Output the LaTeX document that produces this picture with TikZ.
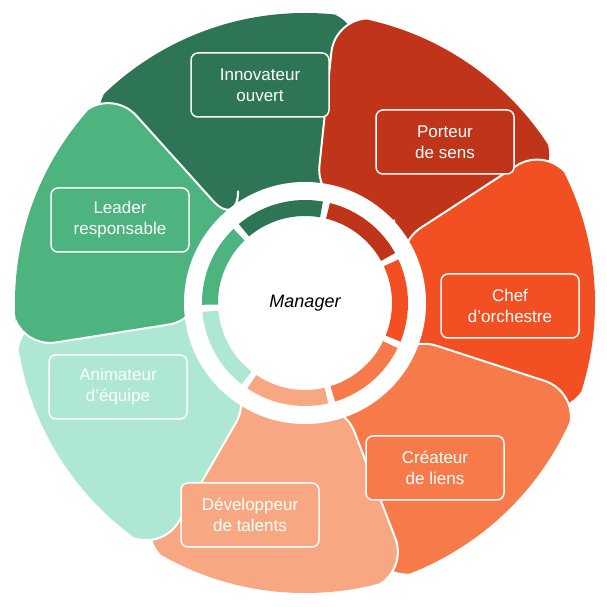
\documentclass[tikz,border=0pt]{standalone}
\usepackage{fontspec}
\setmainfont{Liberation Sans}
\usetikzlibrary{calc}
\definecolor{cA}{HTML}{2E7556}
\definecolor{cB}{HTML}{C0341A}
\definecolor{cC}{HTML}{F25022}
\definecolor{cD}{HTML}{F67A4A}
\definecolor{cE}{HTML}{F7A882}
\definecolor{cF}{HTML}{AEE8D4}
\definecolor{cG}{HTML}{4DB37F}
\tikzset{
  lbl/.style={draw=white,line width=1.5pt,rounded corners=7pt,minimum width=138pt,minimum height=64pt,
    align=center,text=white,font=\fontsize{17}{21}\selectfont},
}
\newcommand{\petal}[3]{%
  \fill[#3,draw=white,line width=2pt,rounded corners=38pt]
   ($(C)+(#1:100)$) -- ($(C)+(#1:290)$) arc[start angle=#1,end angle=#2,radius=290]
   -- ($(C)+(#2:100)$) arc[start angle=#2,end angle=#1,radius=100] -- cycle;}
\newcommand{\inarc}[3]{%
  \fill[#3] ($(C)+(#1:87)$) arc[start angle=#1,end angle=#2,radius=87]
   -- ($(C)+(#2:103)$) arc[start angle=#2,end angle=#1,radius=103] -- cycle;}
\begin{document}
\begin{tikzpicture}[x=1pt,y=1pt]
\useasboundingbox (0,0) rectangle (607,607);
\coordinate (C) at (305,304);
\begin{scope}
\clip (C) circle (290);
\petal{78}{140}{cA}
\petal{27}{84}{cB}
\petal{-24}{33}{cC}
\petal{-75}{-18}{cD}
\petal{-126}{-69}{cE}
\petal{-177}{-120}{cF}
\petal{-228}{-171}{cG}
\end{scope}
\fill[white] (C) circle (121);
\inarc{80}{130}{cA}
\inarc{29}{76}{cB}
\inarc{-22}{25}{cC}
\inarc{-73}{-26}{cD}
\inarc{-124}{-77}{cE}
\inarc{-175}{-128}{cF}
\inarc{-226}{-179}{cG}
\node[circle,fill=white,minimum size=170pt,font=\fontsize{18}{22}\selectfont\itshape] (m) at (C) {Manager};
\node[lbl,fill=cA] (a) at (260,522) {Innovateur\\ouvert};
\node[lbl,fill=cB] (b) at (445,465) {Porteur\\de sens};
\node[lbl,fill=cC] (c) at (510,301) {Chef\\d’orchestre};
\node[lbl,fill=cD] (d) at (435,139) {Créateur\\de liens};
\node[lbl,fill=cE] (e) at (250,92) {Développeur\\de talents};
\node[lbl,fill=cF] (f) at (118,220) {Animateur\\d’équipe};
\node[lbl,fill=cG] (g) at (120,387) {Leader\\responsable};
\end{tikzpicture}
\end{document}
